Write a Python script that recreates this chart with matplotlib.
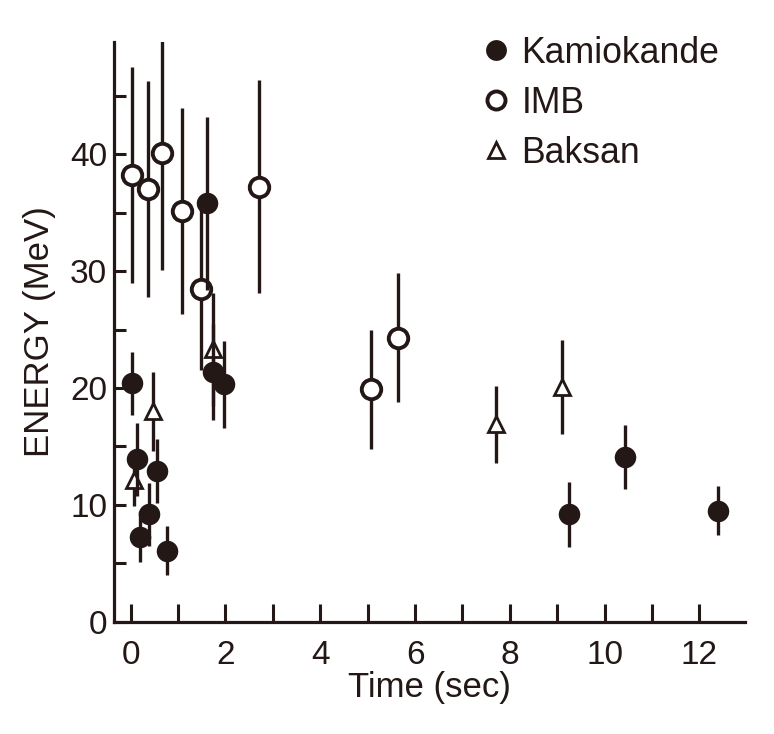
import matplotlib
matplotlib.use("Agg")
import matplotlib.pyplot as plt
from matplotlib.lines import Line2D

# Kamiokande-II, IMB, Baksan neutrino events from SN1987A
kam_t = [0.02, 0.14, 0.20, 0.39, 0.56, 0.76, 1.61, 1.74, 1.97, 9.24, 10.43, 12.40]
kam_e = [20.4, 13.9, 7.3, 9.2, 12.9, 6.1, 35.8, 21.4, 20.3, 9.2, 14.1, 9.5]
kam_err = [2.7, 3.1, 2.2, 2.7, 2.7, 2.1, 7.4, 4.1, 3.7, 2.8, 2.7, 2.1]

imb_t = [0.03, 0.36, 0.65, 1.09, 1.48, 2.71, 5.08, 5.65]
imb_e = [38.2, 37.0, 40.1, 35.1, 28.5, 37.2, 19.9, 24.3]
imb_err = [9.2, 9.2, 10.0, 8.8, 7.0, 9.1, 5.1, 5.5]

bak_t = [0.06, 0.48, 1.74, 7.71, 9.11]
bak_e = [12.1, 18.0, 23.3, 16.9, 20.1]
bak_err = [2.2, 3.4, 4.8, 3.3, 4.0]

x_ticks = [0, 2, 4, 6, 8, 10, 12]
y_ticks = [0, 10, 20, 30, 40]

ink = "#231815"
fnt = ["Liberation Sans", "DejaVu Sans"]

fig = plt.figure(figsize=(7.74, 7.34), dpi=100)
ax = fig.add_axes([0.1473, 0.1526, 0.8152, 0.7906])

ax.errorbar(bak_t, bak_e, yerr=bak_err, fmt="^", color=ink, ecolor=ink,
            elinewidth=2.4, capsize=0, ms=11, mew=2, mfc="white", mec=ink, zorder=3)
ax.errorbar(imb_t, imb_e, yerr=imb_err, fmt="o", color=ink, ecolor=ink,
            elinewidth=2.4, capsize=0, ms=14, mew=2.8, mfc="white", mec=ink, zorder=4)
ax.errorbar(kam_t, kam_e, yerr=kam_err, fmt="o", color=ink, ecolor=ink,
            elinewidth=2.4, capsize=0, ms=15.5, mew=0, mfc=ink, zorder=5)

ax.set_xlim(-0.352, 12.96)
ax.set_ylim(0, 49.6)

ax.set_xticks(range(0, 13))
ax.set_xticklabels([str(t) if t in x_ticks else "" for t in range(0, 13)], family=fnt, fontsize=24)
ax.set_yticks(range(0, 50, 5))
ax.set_yticklabels([str(v) if v in y_ticks else "" for v in range(0, 50, 5)], family=fnt, fontsize=24)

ax.tick_params(axis="x", direction="in", length=13, width=2.2, color=ink, labelcolor=ink, pad=13)
ax.tick_params(axis="y", direction="in", length=8.5, width=2.2, color=ink, labelcolor=ink, pad=5)

for s in ["top", "right"]:
    ax.spines[s].set_visible(False)
for s in ["left", "bottom"]:
    ax.spines[s].set_linewidth(2.3)
    ax.spines[s].set_color(ink)

ax.set_xlabel("Time (sec)", family=fnt, fontsize=25, color=ink, labelpad=0)
ax.set_ylabel("ENERGY (MeV)", family=fnt, fontsize=25, color=ink, labelpad=10)

handles = [
    Line2D([], [], ls="none", marker="o", ms=15, mew=0, mfc=ink, mec=ink),
    Line2D([], [], ls="none", marker="o", ms=13, mew=2.8, mfc="white", mec=ink),
    Line2D([], [], ls="none", marker="^", ms=11, mew=2, mfc="white", mec=ink),
]
leg = fig.legend(handles, ["Kamiokande", "IMB", "Baksan"], loc="upper left",
                 bbox_to_anchor=(0.623, 0.951), bbox_transform=fig.transFigure,
                 frameon=False, handlelength=0.8, handletextpad=0.3,
                 labelspacing=0.42, borderpad=0, borderaxespad=0,
                 prop={"family": fnt, "size": 25.7})
for t in leg.get_texts():
    t.set_color(ink)

fig.savefig("out.png", dpi=100)
